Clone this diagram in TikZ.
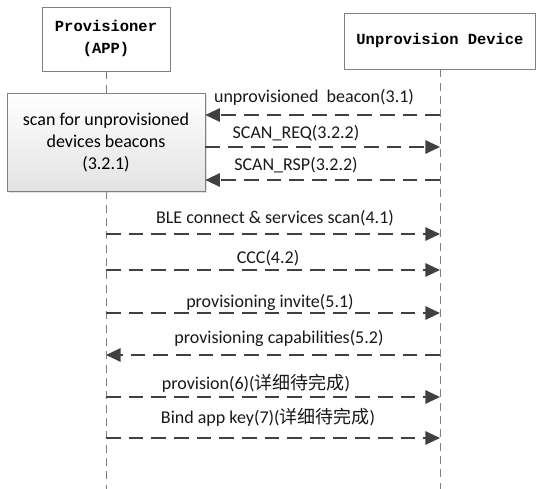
\documentclass[tikz,border=0pt]{standalone}
\usepackage{fontspec}
\setmainfont{Carlito}
\newfontfamily\headfont{Liberation Mono}
\newfontfamily\cjk{Noto Sans CJK SC}
\usetikzlibrary{arrows.meta,shadows}
\definecolor{msgcol}{HTML}{404040}
\definecolor{boxline}{HTML}{808080}

\begin{document}
\begin{tikzpicture}[x=0.75pt,y=-0.75pt]
        \useasboundingbox[fill=white] (0,0) rectangle (544,489);
        \begin{scope}[every node/.style={draw=boxline, fill=white, align=center, inner sep=2pt, font=\fontsize{11.6}{16.5}\selectfont\headfont\bfseries}]
                \node[minimum width=96pt, minimum height=48pt] (prov) at (106,39) {Provisioner\\(APP)};
                \node[minimum width=143pt, minimum height=42pt] (dev) at (440,41) {Unprovision Device};
        \end{scope}
        \coordinate (provend) at (106,489);
        \coordinate (devend) at (440,489);
        \begin{scope}[every edge/.style={draw=boxline, line width=0.75pt, dash pattern=on 6pt off 4pt}]
                \path (prov.south) edge (provend);
                \path (dev.south) edge (devend);
        \end{scope}
        \node[draw=boxline, top color=white, bottom color=gray!22, drop shadow={shadow xshift=1.5pt, shadow yshift=-1.5pt, fill=gray!45},
              minimum width=148.5pt, minimum height=73.5pt, align=center,
              font=\fontsize{13.5}{16.5}\selectfont] (scan) at (106,142) {scan for unprovisioned\\devices beacons\\(3.2.1)};
        % message points on the two lifelines
        \foreach \m/\y in {beacon/115, req/147, rsp/180, ble/234, ccc/270, invite/313, capa/355, prov/397, bind/438} {
                \coordinate (p\m) at (106,\y);
                \coordinate (d\m) at (440,\y);
        }
        \begin{scope}[every edge/.style={draw=msgcol, line width=1.5pt, dash pattern=on 11pt off 6pt, -{Triangle[length=11pt,width=10pt]}}]
                \path (dbeacon) edge (scan.east |- dbeacon);
                \path (scan.east |- dreq) edge (dreq);
                \path (drsp) edge (scan.east |- drsp);
                \path (pble) edge (dble);
                \path (pccc) edge (dccc);
                \path (pinvite) edge (dinvite);
                \path (dcapa) edge (pcapa);
                \path (pprov) edge (dprov);
                \path (pbind) edge (dbind);
        \end{scope}
        \begin{scope}[every node/.style={inner sep=0pt, text=black!90, font=\fontsize{13.5}{16.5}\selectfont}]
                \node (lbeacon) at (314,97) {unprovisioned\ \ beacon(3.1)};
                \node (lreq) at (296,133) {SCAN\_REQ(3.2.2)};
                \node (lrsp) at (296,165) {SCAN\_RSP(3.2.2)};
                \node (lble) at (275,218) {BLE connect \& services scan(4.1)};
                \node (lccc) at (268,258) {CCC(4.2)};
                \node (linvite) at (270,302) {provisioning invite(5.1)};
                \node (lcapa) at (279,338) {provisioning capabilities(5.2)};
                \node (lprov) at (256,383) {provision(6)({\cjk 详细待完成})};
                \node (lbind) at (268,417) {Bind app key(7)({\cjk 详细待完成})};
        \end{scope}
\end{tikzpicture}
\end{document}
